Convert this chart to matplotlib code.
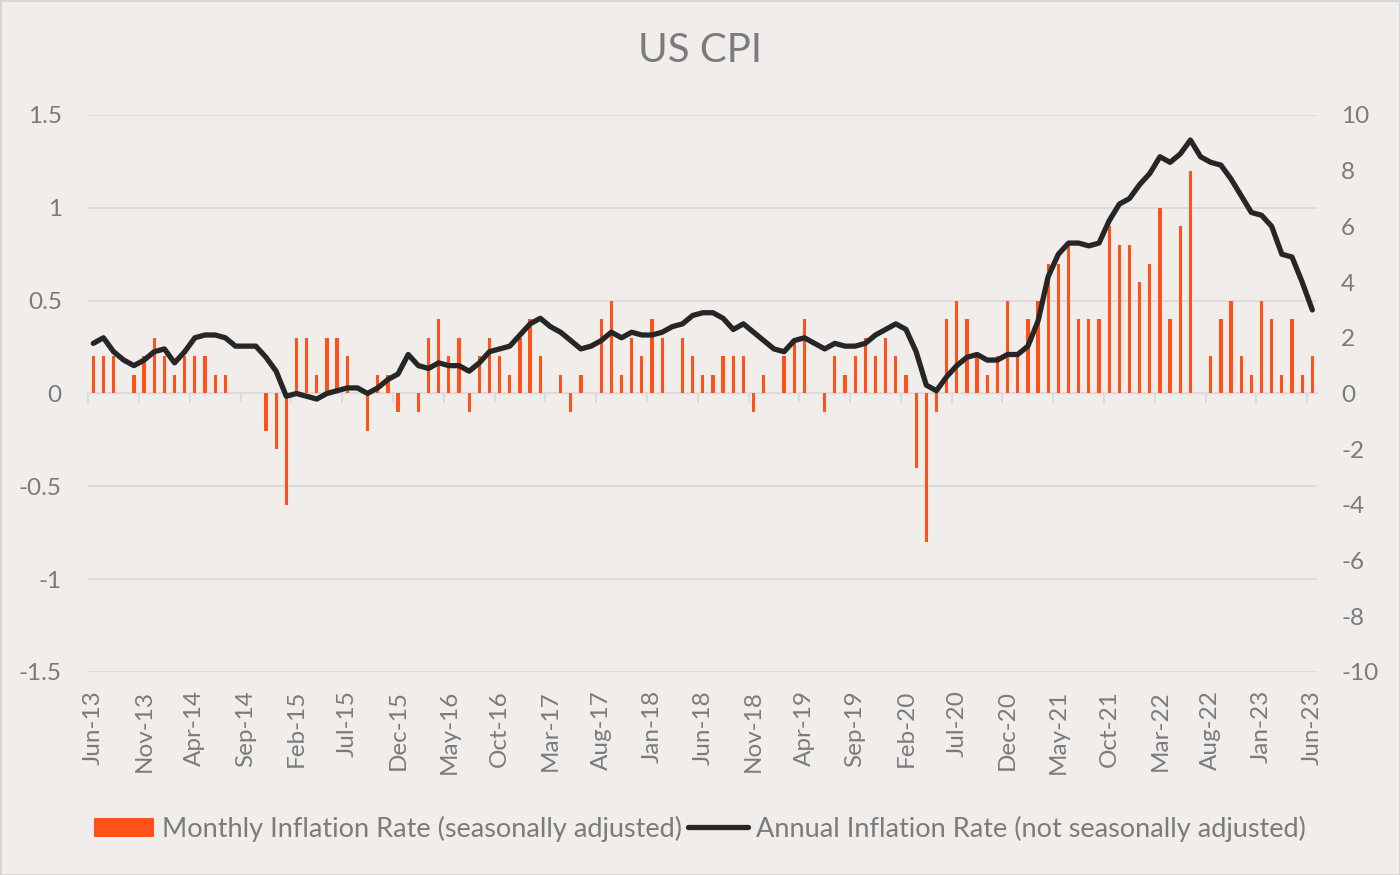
import numpy as np
import pandas as pd
import matplotlib
matplotlib.use("Agg")
import matplotlib.pyplot as plt

# US CPI: monthly (SA) vs annual (NSA) inflation, Jun-13 .. Jun-23

months = pd.date_range("2013-06-01", "2023-06-01", freq="MS").strftime("%b-%y").tolist()

monthly = [0.2, 0.2, 0.2, 0.0, 0.1, 0.2, 0.3,
           0.2, 0.1, 0.2, 0.2, 0.2, 0.1, 0.1, 0.0, 0.0, 0.0, -0.2, -0.3,
           -0.6, 0.3, 0.3, 0.1, 0.3, 0.3, 0.2, 0.0, -0.2, 0.1, 0.1, -0.1,
           0.0, -0.1, 0.3, 0.4, 0.2, 0.3, -0.1, 0.2, 0.3, 0.2, 0.1, 0.3,
           0.4, 0.2, 0.0, 0.1, -0.1, 0.1, 0.0, 0.4, 0.5, 0.1, 0.3, 0.2,
           0.4, 0.3, 0.0, 0.3, 0.2, 0.1, 0.1, 0.2, 0.2, 0.2, -0.1, 0.1,
           0.0, 0.2, 0.3, 0.4, 0.0, -0.1, 0.2, 0.1, 0.2, 0.3, 0.2, 0.3,
           0.2, 0.1, -0.4, -0.8, -0.1, 0.4, 0.5, 0.4, 0.2, 0.1, 0.2, 0.5,
           0.2, 0.4, 0.5, 0.7, 0.7, 0.8, 0.4, 0.4, 0.4, 0.9, 0.8, 0.8,
           0.6, 0.7, 1.0, 0.4, 0.9, 1.2, 0.0, 0.2, 0.4, 0.5, 0.2, 0.1,
           0.5, 0.4, 0.1, 0.4, 0.1, 0.2]

annual = [1.8, 2.0, 1.5, 1.2, 1.0, 1.2, 1.5,
          1.6, 1.1, 1.5, 2.0, 2.1, 2.1, 2.0, 1.7, 1.7, 1.7, 1.3, 0.8,
          -0.1, 0.0, -0.1, -0.2, 0.0, 0.1, 0.2, 0.2, 0.0, 0.2, 0.5, 0.7,
          1.4, 1.0, 0.9, 1.1, 1.0, 1.0, 0.8, 1.1, 1.5, 1.6, 1.7, 2.1,
          2.5, 2.7, 2.4, 2.2, 1.9, 1.6, 1.7, 1.9, 2.2, 2.0, 2.2, 2.1,
          2.1, 2.2, 2.4, 2.5, 2.8, 2.9, 2.9, 2.7, 2.3, 2.5, 2.2, 1.9,
          1.6, 1.5, 1.9, 2.0, 1.8, 1.6, 1.8, 1.7, 1.7, 1.8, 2.1, 2.3,
          2.5, 2.3, 1.5, 0.3, 0.1, 0.6, 1.0, 1.3, 1.4, 1.2, 1.2, 1.4,
          1.4, 1.7, 2.6, 4.2, 5.0, 5.4, 5.4, 5.3, 5.4, 6.2, 6.8, 7.0,
          7.5, 7.9, 8.5, 8.3, 8.6, 9.1, 8.5, 8.3, 8.2, 7.7, 7.1, 6.5,
          6.4, 6.0, 5.0, 4.9, 4.0, 3.0]

left_ticks = [-1.5, -1, -0.5, 0, 0.5, 1, 1.5]
left_labels = ["-1.5", "-1", "-0.5", "0", "0.5", "1", "1.5"]
right_ticks = list(range(-10, 11, 2))

plt.rcParams['font.family'] = ['Lato', 'DejaVu Sans']
plt.rcParams['axes.unicode_minus'] = False
text_col = '#7b7b7b'
bg = '#f0edea'
grid_col = '#dcdcdc'
bar_col = '#ff5119'
line_col = '#262626'

fig = plt.figure(figsize=(14, 8.75), dpi=100, facecolor=bg,
                 edgecolor='#d6d6d6', linewidth=2)
ax = fig.add_axes([0.063, 0.232, 0.878, 0.6366])
ax.set_facecolor(bg)

x = np.arange(len(months))
ax.bar(x, monthly, width=0.32, color=bar_col, zorder=3,
       label="Monthly Inflation Rate (seasonally adjusted)")
ax.set_xlim(-0.5, len(months) - 0.5)
ax.set_ylim(-1.5, 1.5)
ax.set_yticks(left_ticks)
ax.set_yticklabels(left_labels)
ax.grid(axis='y', color=grid_col, lw=1.5, zorder=0)
ax.set_axisbelow(True)
for s in ax.spines.values():
    s.set_visible(False)

ax.set_xticks(x[::5])
ax.set_xticklabels(months[::5], rotation=90, va='top')
ax.tick_params(axis='x', length=0, pad=13, labelsize=17.5, labelcolor=text_col)
ax.tick_params(axis='y', length=0, pad=19, labelsize=17.5, labelcolor=text_col)

# category axis crossing at zero, tick marks between categories
zax = ax.secondary_xaxis(0.5)
zax.set_alignment('bottom')
zax.set_xticks(np.arange(-0.5, len(months), 5))
zax.tick_params(length=7, width=1.5, color=grid_col, labelbottom=False, labeltop=False)
zax.spines['bottom'].set_color(grid_col)
zax.spines['bottom'].set_linewidth(1.5)

ax2 = ax.twinx()
ax2.plot(x, annual, color=line_col, lw=3.8, solid_joinstyle='round',
         solid_capstyle='round', zorder=4,
         label="Annual Inflation Rate (not seasonally adjusted)")
ax2.set_ylim(-10, 10)
ax2.set_yticks(right_ticks)
ax2.tick_params(axis='y', length=0, pad=17, labelsize=17.5, labelcolor=text_col)
for s in ax2.spines.values():
    s.set_visible(False)

fig.text(0.5, 1 - 50 / 875, "US CPI", ha='center', va='center',
         fontsize=29, color=text_col)

h1, l1 = ax.get_legend_handles_labels()
h2, l2 = ax2.get_legend_handles_labels()
fig.legend(h1 + h2, l1 + l2, loc='center', bbox_to_anchor=(0.5, 0.053),
           ncol=2, frameon=False, fontsize=19.5, handlelength=2.2,
           handletextpad=0.3, columnspacing=0.25, labelcolor=text_col)

fig.savefig("out.png", dpi=100, facecolor=bg, edgecolor='#d6d6d6')
